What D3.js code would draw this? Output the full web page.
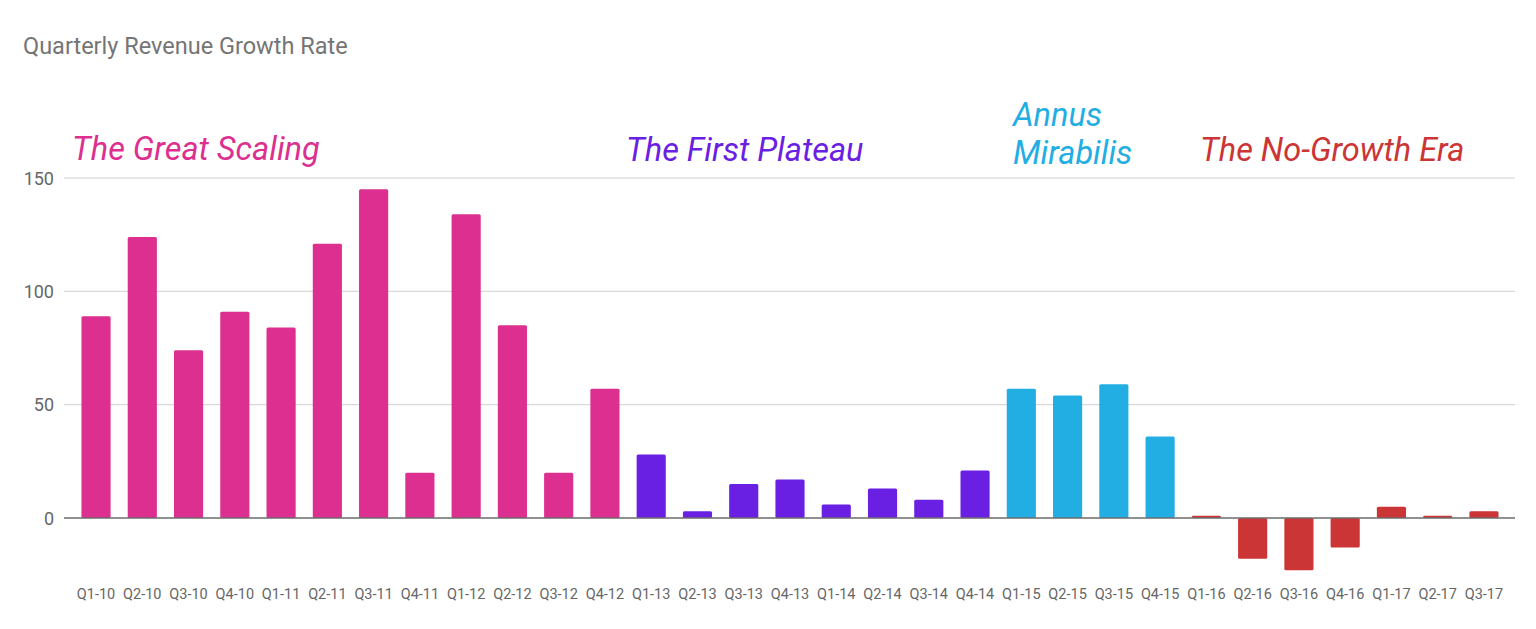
<!DOCTYPE html>
<head>
    <meta charset="utf-8" />
    <script src="https://d3js.org/d3.v7.min.js"></script>
    <style>
        body { margin: 0; background: #fff; }
        text { font-family: Roboto, sans-serif; }
    </style>
</head>
<body>
<script>
    // donnees
    var quarters = ["Q1-10","Q2-10","Q3-10","Q4-10","Q1-11","Q2-11","Q3-11","Q4-11",
        "Q1-12","Q2-12","Q3-12","Q4-12","Q1-13","Q2-13","Q3-13","Q4-13",
        "Q1-14","Q2-14","Q3-14","Q4-14","Q1-15","Q2-15","Q3-15","Q4-15",
        "Q1-16","Q2-16","Q3-16","Q4-16","Q1-17","Q2-17","Q3-17"];
    var growth = [89, 124, 74, 91, 84, 121, 145, 20,
        134, 85, 20, 57, 28, 3, 15, 17,
        6, 13, 8, 21, 57, 54, 59, 36,
        1, -18, -23, -13, 5, 1, 3];
    var eras = ["great","great","great","great","great","great","great","great",
        "great","great","great","great","plateau","plateau","plateau","plateau",
        "plateau","plateau","plateau","plateau","annus","annus","annus","annus",
        "nogrowth","nogrowth","nogrowth","nogrowth","nogrowth","nogrowth","nogrowth"];
    var yTicks = [0, 50, 100, 150];
    var eraNames = ["great", "plateau", "annus", "nogrowth"];
    var eraColors = ["#dc2f8f", "#6a20e3", "#22aee3", "#cc3535"];
    var eraLabels = [["The Great Scaling"], ["The First Plateau"], ["Annus", "Mirabilis"], ["The No-Growth Era"]];

    var width = 1536, height = 629;
    var svg = d3.select("body").append("svg")
        .attr("width", width)
        .attr("height", height);

    var color = d3.scaleOrdinal().domain(eraNames).range(eraColors);

    var x = d3.scaleBand()
        .domain(quarters)
        .range([72.9, 1507.1])
        .paddingInner(0.37)
        .paddingOuter(0.185);

    var y = d3.scaleLinear().domain([0, 150]).range([518, 178]);

    svg.append("text")
        .attr("x", 23).attr("y", 54)
        .attr("font-size", 23.5)
        .attr("fill", "#757575")
        .text("Quarterly Revenue Growth Rate");

    // grille
    svg.append("g").selectAll("line")
        .data(yTicks.filter(function(d) { return d != 0; }))
        .join("line")
        .attr("x1", 64).attr("x2", 1515)
        .attr("y1", function(d) { return y(d); })
        .attr("y2", function(d) { return y(d); })
        .attr("stroke", "#d0d0d0")
        .attr("stroke-width", 1);

    svg.append("g").selectAll("text")
        .data(yTicks)
        .join("text")
        .attr("x", 54)
        .attr("y", function(d) { return y(d) + 6.5; })
        .attr("text-anchor", "end")
        .attr("font-size", 18)
        .attr("fill", "#666")
        .text(function(d) { return d; });

    // barres
    svg.append("g").selectAll("rect")
        .data(growth)
        .join("rect")
        .attr("x", function(d, i) { return x(quarters[i]); })
        .attr("width", x.bandwidth())
        .attr("y", function(d) { return d >= 0 ? y(d) : y(0); })
        .attr("height", function(d) { return Math.abs(y(d) - y(0)); })
        .attr("rx", 1.5)
        .attr("fill", function(d, i) { return color(eras[i]); });

    svg.append("line")
        .attr("x1", 64).attr("x2", 1515)
        .attr("y1", y(0)).attr("y2", y(0))
        .attr("stroke", "#6b6b6b")
        .attr("stroke-width", 1.3);

    svg.append("g").selectAll("text")
        .data(quarters)
        .join("text")
        .attr("x", function(d) { return x(d) + x.bandwidth() / 2; })
        .attr("y", 599)
        .attr("text-anchor", "middle")
        .attr("font-size", 14.5)
        .attr("fill", "#666")
        .text(function(d) { return d; });

    // titres des periodes
    var labelX = [72, 626, 1013, 1200];
    var labelY = [160, 161, 126, 161];
    eraLabels.forEach(function(lines, k) {
        var t = svg.append("text")
            .attr("x", labelX[k])
            .attr("y", labelY[k])
            .attr("font-size", 32.5)
            .attr("font-style", "italic")
            .attr("fill", eraColors[k]);
        lines.forEach(function(l, j) {
            t.append("tspan")
                .attr("x", labelX[k])
                .attr("dy", j == 0 ? 0 : 38)
                .text(l);
        });
    });
</script>
</body>
